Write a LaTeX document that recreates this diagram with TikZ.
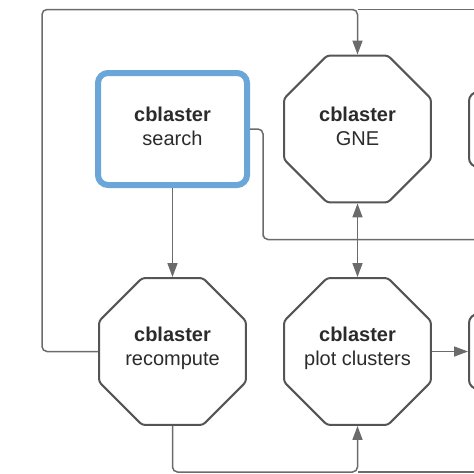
\documentclass[tikz,border=0pt]{standalone}
\usepackage{fontspec}
\setmainfont{Liberation Sans}
\usetikzlibrary{shapes.geometric,arrows.meta}
\definecolor{lineg}{HTML}{6B6B6B}
\definecolor{octg}{HTML}{555555}
\definecolor{boxblue}{HTML}{6AA6D8}
\definecolor{txt}{HTML}{2B2B2B}
\tikzset{
  x=1pt, y=-1pt,
  lbl/.style={align=center, text=txt, font=\fontsize{20}{24}\selectfont, yshift=3pt},
  octa/.style={regular polygon, regular polygon sides=8, minimum size=159pt, inner sep=0pt, draw=octg, line width=2pt, rounded corners=3pt},
  bluebox/.style={rectangle, draw=boxblue, line width=6pt, rounded corners=10pt, minimum width=149pt, minimum height=112pt, inner sep=0pt},
  sidebox/.style={rectangle, draw=octg, line width=2pt, rounded corners=9pt, minimum width=149pt, minimum height=75pt},
  conn/.style={draw=lineg, line width=1.5pt, rounded corners=5pt},
  arr/.style={conn, -{Triangle[length=14pt,width=10pt]}}
}
\begin{document}
\begin{tikzpicture}
\useasboundingbox (0,0) rectangle (474,474);
\clip (0,0) rectangle (474,474);
\node[bluebox, label={[lbl]center:{\textbf{cblaster}\\search}}] (search) at (172.5,129) {};
\node[octa, label={[lbl]center:{\textbf{cblaster}\\GNE}}] (gne) at (357.5,129) {};
\node[octa, label={[lbl]center:{\textbf{cblaster}\\recompute}}] (recomp) at (172.5,351.5) {};
\node[octa, label={[lbl]center:{\textbf{cblaster}\\plot clusters}}] (plot) at (357.5,351.5) {};
\node[sidebox, anchor=west] (r1) at (468,129.5) {};
\node[sidebox, anchor=west] (r2) at (468,351.5) {};
% coordinates
\coordinate (topL) at (42,9.5);
\coordinate (topR) at (490,9.5);
\coordinate (topJ) at (357.5,9.5);
\coordinate (midJ) at (357.5,239.5);
\coordinate (midX) at (263,239.5);
\coordinate (midR) at (490,239.5);
\coordinate (botJ) at (357.5,472);
\coordinate (botR) at (490,472);
% connectors
\draw[arr] (search.south) -- (recomp.north);
\draw[arr] (recomp.west) -| (topL) -| (gne.north);
\draw[conn] (topJ) -- (topR);
\draw[conn] (search.east) -| (midX) |- (midR);
\draw[arr] (midJ) -- (gne.south);
\draw[arr] (midJ) -- (plot.north);
\draw[arr] (recomp.south) |- (botJ) -- (plot.south);
\draw[conn] (botJ) -- (botR);
\draw[arr] (plot.east) -- (r2.west);
\end{tikzpicture}
\end{document}
